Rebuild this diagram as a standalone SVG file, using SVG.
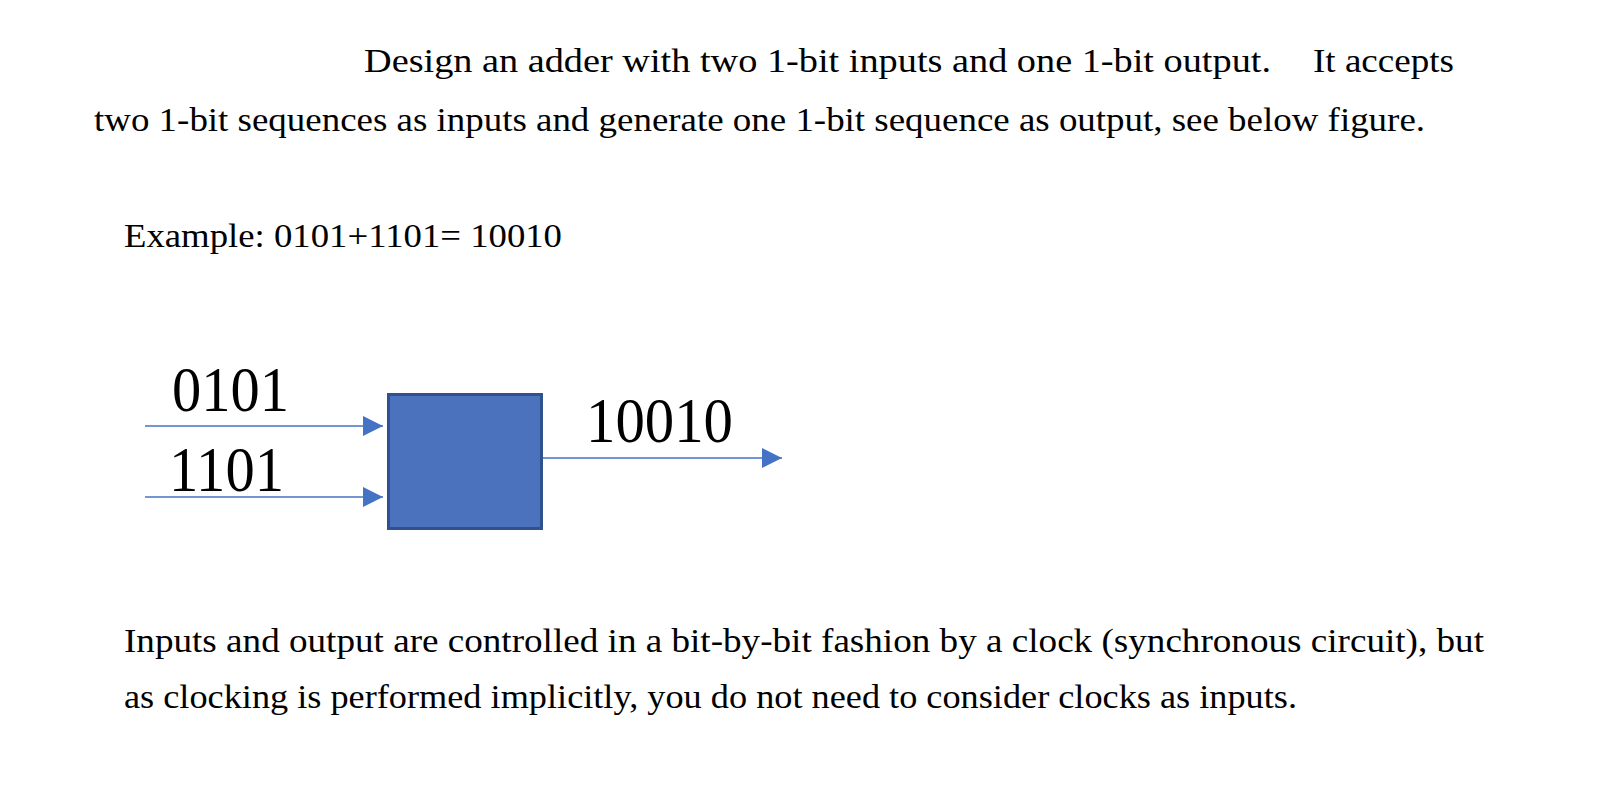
<svg xmlns="http://www.w3.org/2000/svg" width="1608" height="790" viewBox="0 0 1608 790">
<defs>
<style>
.t{font-family:"Liberation Serif","Times New Roman",serif;font-size:33px;fill:#000}
.d{font-family:"Liberation Serif","Times New Roman",serif;font-size:63px;fill:#000}
.w{stroke:#4472C4;stroke-width:1.6;fill:none}
</style>
<marker id="ah" viewBox="0 0 20 20" refX="20" refY="10" markerWidth="20" markerHeight="20" markerUnits="userSpaceOnUse" orient="auto">
<path d="M0,0 L20,10 L0,20 Z" fill="#4472C4"/>
</marker>
</defs>
<rect width="1608" height="790" fill="#fff"/>
<g id="text">
<text class="t" x="364" y="72" textLength="907" lengthAdjust="spacingAndGlyphs">Design an adder with two 1-bit inputs and one 1-bit output.</text>
<text class="t" x="1313" y="72" textLength="141" lengthAdjust="spacingAndGlyphs">It accepts</text>
<text class="t" x="94" y="131" textLength="1331" lengthAdjust="spacingAndGlyphs">two 1-bit sequences as inputs and generate one 1-bit sequence as output, see below figure.</text>
<text class="t" x="124" y="247" textLength="438" lengthAdjust="spacingAndGlyphs">Example: 0101+1101= 10010</text>
<text class="t" x="124" y="652" textLength="1360" lengthAdjust="spacingAndGlyphs">Inputs and output are controlled in a bit-by-bit fashion by a clock (synchronous circuit), but</text>
<text class="t" x="124" y="708" textLength="1173" lengthAdjust="spacingAndGlyphs">as clocking is performed implicitly, you do not need to consider clocks as inputs.</text>
</g>
<g id="connectors">
<line class="w" x1="145" y1="426" x2="383" y2="426" marker-end="url(#ah)"/>
<line class="w" x1="145" y1="497" x2="383" y2="497" marker-end="url(#ah)"/>
<line class="w" x1="543" y1="458" x2="782" y2="458" marker-end="url(#ah)"/>
</g>
<g id="adder">
<rect x="388.5" y="394.5" width="153" height="134" fill="#4A72BD" stroke="#2F528F" stroke-width="3"/>
</g>
<g id="label-a">
<text class="d" x="172" y="411" textLength="117" lengthAdjust="spacingAndGlyphs">0101</text>
</g>
<g id="label-b">
<text class="d" x="169" y="491" textLength="115" lengthAdjust="spacingAndGlyphs">1101</text>
</g>
<g id="label-out">
<text class="d" x="586" y="442" textLength="147" lengthAdjust="spacingAndGlyphs">10010</text>
</g>
</svg>
